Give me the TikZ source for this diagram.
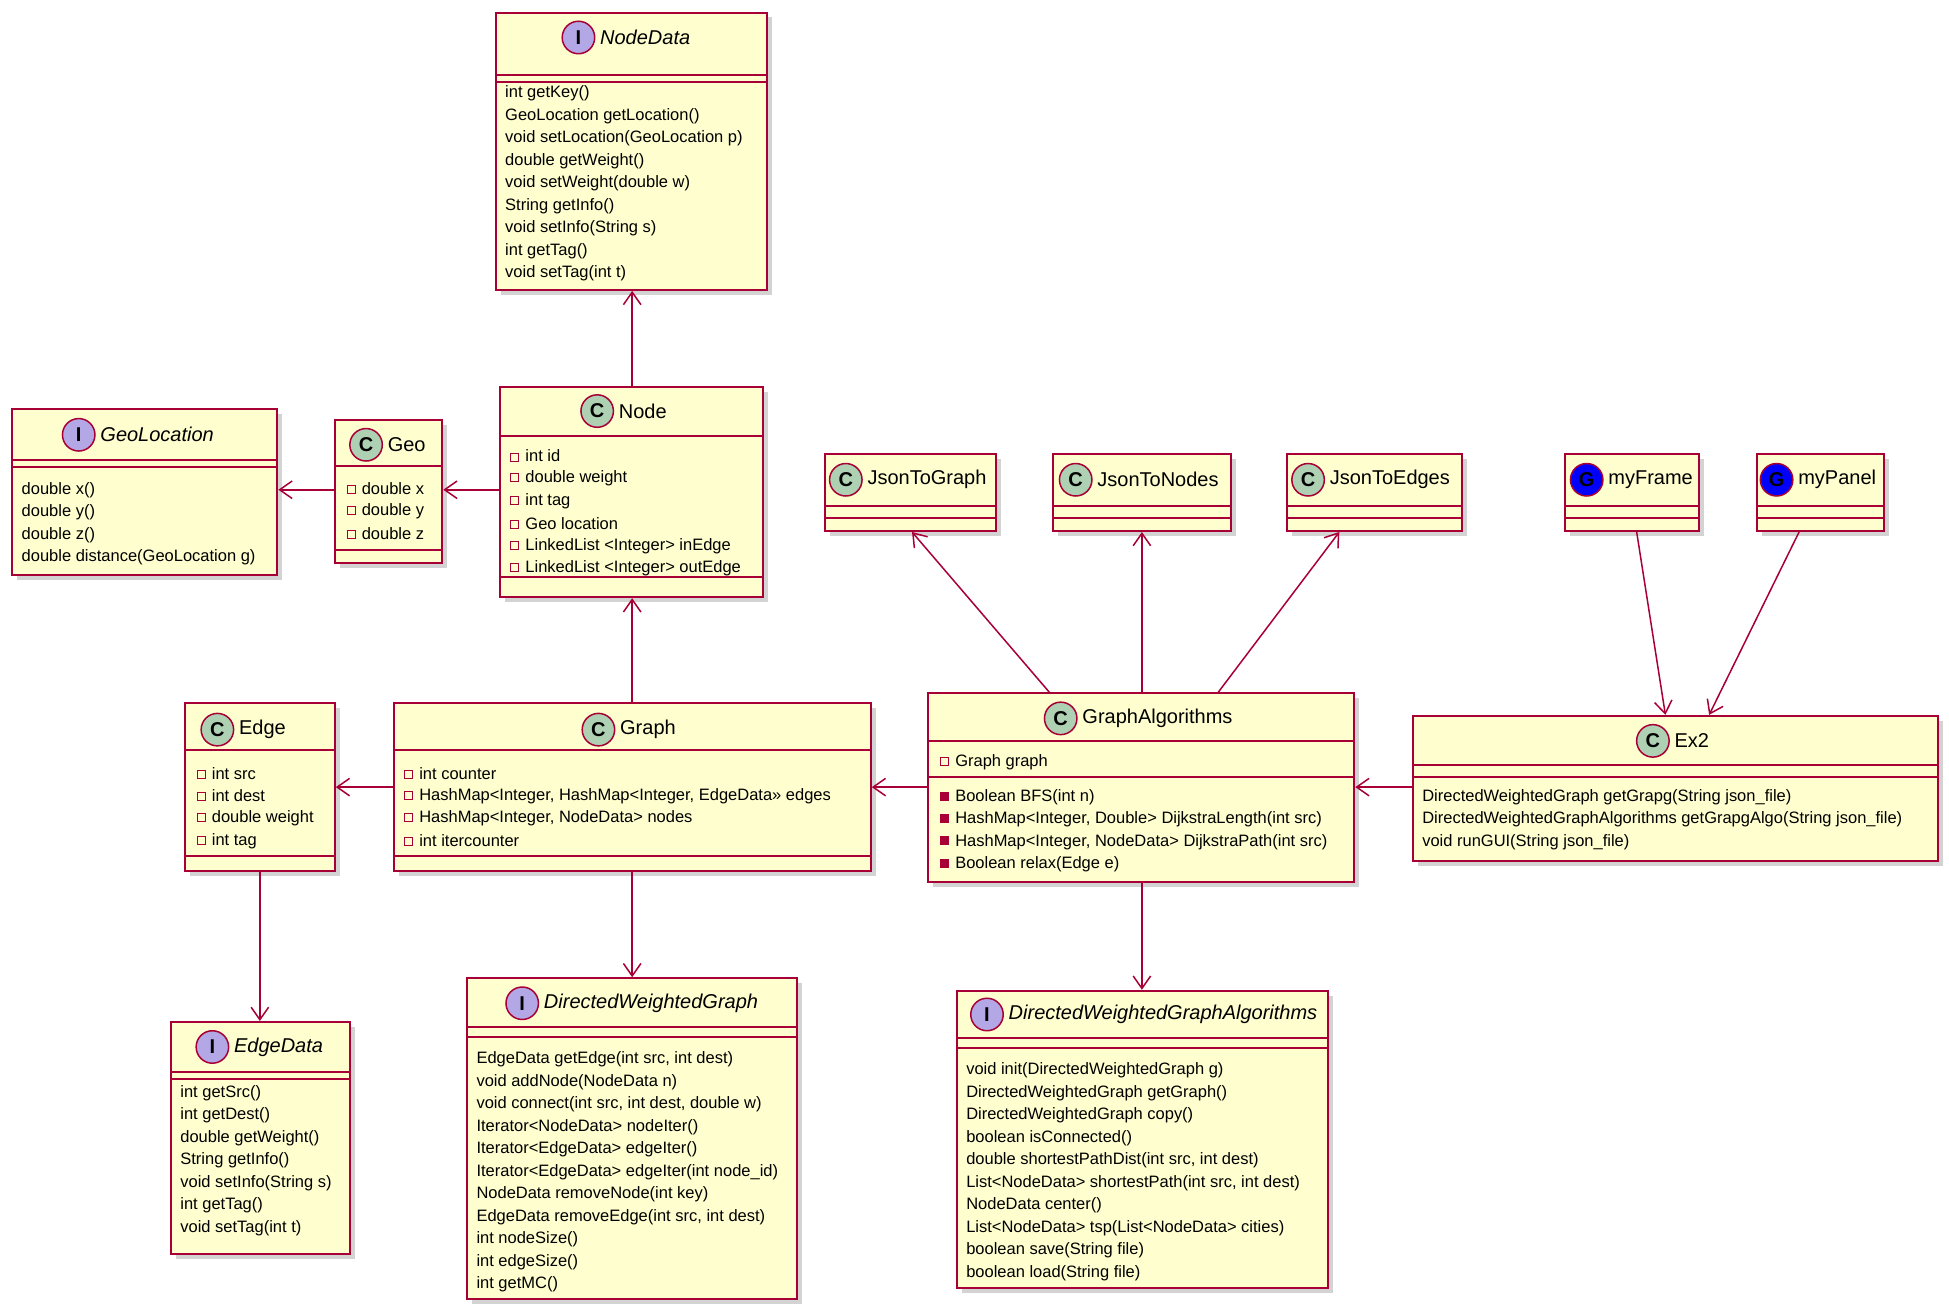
\documentclass[tikz,border=0pt]{standalone}
\usepackage{fontspec}
\setmainfont{Liberation Sans}
\usetikzlibrary{arrows.meta,fit,shadows,calc}
\definecolor{umlred}{HTML}{A80036}
\definecolor{umlfill}{HTML}{FEFECE}
\definecolor{cgreen}{HTML}{ADD1B2}
\definecolor{ipurple}{HTML}{B4A7E5}
\tikzset{
  classbox/.style={draw=umlred, fill=umlfill, line width=0.8pt, inner sep=0pt,
    drop shadow={shadow xshift=2pt, shadow yshift=-2pt, opacity=0.35}},
  sepline/.style={draw=umlred, line width=0.8pt},
  icon/.style={circle, draw=umlred, line width=0.6pt, minimum size=13pt, inner sep=0pt,
    font=\bfseries\fontsize{8}{8}\selectfont},
  title/.style={anchor=west, inner sep=0pt, font=\fontsize{8}{9}\selectfont},
  member/.style={anchor=west, inner sep=0pt, font=\fontsize{6.6}{8}\selectfont},
  assoc/.style={draw=umlred, line width=0.6pt, -{Straight Barb[length=5pt,width=7pt]}}
}
% box with its two separators
\newcommand\umlbox[7]{%
  \node[classbox, fit={(#2,#3) (#4,#5)}] (#1) {};
  \draw[sepline] (#2,#6) -- (#4,#6);
  \draw[sepline] (#2,#7) -- (#4,#7);}
% icon and class name
\newcommand\umltitle[6]{%
  \node[icon, fill=#1] (#6-ic) at (#3,#4) {#2};
  \node[title] at (#3+17,#4) {#5};}
% lines of members
\newcommand\umllines[3]{%
  \foreach \t [count=\i from 0] in {#3}
    \node[member] at (#1,#2+18*\i) {\t};}
\newcommand\fld{\tikz[baseline=-0.1ex]\draw[umlred,line width=0.4pt] (0,0) rectangle (3.2pt,3.2pt);\hspace{2.5pt}}
\newcommand\mth{\tikz[baseline=-0.1ex]\fill[umlred] (0,0) rectangle (3.6pt,3.6pt);\hspace{2.5pt}}

\begin{document}
\begin{tikzpicture}[x=0.5pt, y=-0.5pt]
\useasboundingbox (0,0) rectangle (1560,1051);

% interfaces and classes
\umlbox{NodeData}{397}{10}{614}{232}{60}{66}
\umltitle{ipurple}{I}{463}{30}{\textit{NodeData}}{NodeData}
\umllines{404}{75}{int getKey(), GeoLocation getLocation(), void setLocation(GeoLocation p), double getWeight(), void setWeight(double w), String getInfo(), void setInfo(String s), int getTag(), void setTag(int t)}

\umlbox{Node}{400}{310}{611}{478}{349}{462}
\umltitle{cgreen}{C}{478}{329}{Node}{Node}
\umllines{408}{365}{\fld int id, \fld double weight, \fld int tag, \fld Geo location, \fld LinkedList <Integer> inEdge, \fld LinkedList <Integer> outEdge}

\umlbox{Geo}{268}{336}{354}{451}{373}{440}
\umltitle{cgreen}{C}{293}{356}{Geo}{Geo}
\umllines{277}{391}{\fld double x, \fld double y, \fld double z}

\umlbox{GeoLocation}{10}{327}{222}{460}{368}{374}
\umltitle{ipurple}{I}{63}{348}{\textit{GeoLocation}}{GeoLocation}
\umllines{17}{392}{double x(), double y(), double z(), double distance(GeoLocation g)}

\umlbox{JsonToGraph}{660}{363}{797}{425}{405}{415}
\umltitle{cgreen}{C}{677}{384}{JsonToGraph}{JsonToGraph}
\umlbox{JsonToNodes}{843}{363}{985}{425}{405}{415}
\umltitle{cgreen}{C}{861}{384}{JsonToNodes}{JsonToNodes}
\umlbox{JsonToEdges}{1030}{363}{1170}{425}{405}{415}
\umltitle{cgreen}{C}{1047}{384}{JsonToEdges}{JsonToEdges}
\umlbox{myFrame}{1253}{363}{1360}{425}{405}{415}
\umltitle{blue}{G}{1270}{384}{myFrame}{myFrame}
\umlbox{myPanel}{1406}{363}{1508}{425}{405}{415}
\umltitle{blue}{G}{1422}{384}{myPanel}{myPanel}

\umlbox{Edge}{148}{563}{268}{697}{600}{685}
\umltitle{cgreen}{C}{174}{584}{Edge}{Edge}
\umllines{157}{619}{\fld int src, \fld int dest, \fld double weight, \fld int tag}

\umlbox{Graph}{315}{563}{697}{697}{600}{685}
\umltitle{cgreen}{C}{479}{584}{Graph}{Graph}
\umllines{323}{619}{\fld int counter, {\fld HashMap<Integer, HashMap<Integer, EdgeData>> edges}, {\fld HashMap<Integer, NodeData> nodes}, \fld int itercounter}

\umlbox{GraphAlgorithms}{743}{555}{1084}{706}{593}{622}
\umltitle{cgreen}{C}{849}{575}{GraphAlgorithms}{GraphAlgorithms}
\umllines{752}{610}{\fld Graph graph}
\umllines{752}{638}{\mth Boolean BFS(int n), {\mth HashMap<Integer, Double> DijkstraLength(int src)}, {\mth HashMap<Integer, NodeData> DijkstraPath(int src)}, \mth Boolean relax(Edge e)}

\umlbox{Ex2}{1131}{573}{1551}{689}{612}{622}
\umltitle{cgreen}{C}{1323}{593}{Ex2}{Ex2}
\umllines{1138}{638}{DirectedWeightedGraph getGrapg(String json\_file), DirectedWeightedGraphAlgorithms getGrapgAlgo(String json\_file), void runGUI(String json\_file)}

\umlbox{EdgeData}{137}{818}{280}{1004}{858}{864}
\umltitle{ipurple}{I}{170}{838}{\textit{EdgeData}}{EdgeData}
\umllines{144}{875}{int getSrc(), int getDest(), double getWeight(), String getInfo(), void setInfo(String s), int getTag(), void setTag(int t)}

\umlbox{DWG}{374}{783}{638}{1040}{822}{830}
\umltitle{ipurple}{I}{418}{803}{\textit{DirectedWeightedGraph}}{DWG}
\umllines{381}{848}{{EdgeData getEdge(int src, int dest)}, void addNode(NodeData n), {void connect(int src, int dest, double w)}, Iterator<NodeData> nodeIter(), Iterator<EdgeData> edgeIter(), Iterator<EdgeData> edgeIter(int node\_id), NodeData removeNode(int key), {EdgeData removeEdge(int src, int dest)}, int nodeSize(), int edgeSize(), int getMC()}

\umlbox{DWGA}{766}{793}{1063}{1031}{831}{839}
\umltitle{ipurple}{I}{790}{812}{\textit{DirectedWeightedGraphAlgorithms}}{DWGA}
\umllines{773}{857}{void init(DirectedWeightedGraph g), DirectedWeightedGraph getGraph(), DirectedWeightedGraph copy(), boolean isConnected(), {double shortestPathDist(int src, int dest)}, {List<NodeData> shortestPath(int src, int dest)}, NodeData center(), List<NodeData> tsp(List<NodeData> cities), boolean save(String file), boolean load(String file)}

% connectors
\draw[assoc] (Node.north -| 506,0) -- (NodeData.south -| 506,0);
\draw[assoc] (Node.west |- 0,392) -- (Geo.east |- 0,392);
\draw[assoc] (Geo.west |- 0,392) -- (GeoLocation.east |- 0,392);
\draw[assoc] (Graph.north -| 506,0) -- (Node.south -| 506,0);
\draw[assoc] (Graph.west |- 0,630) -- (Edge.east |- 0,630);
\draw[assoc] (Graph.south -| 506,0) -- (DWG.north -| 506,0);
\draw[assoc] (Edge.south -| 208,0) -- (EdgeData.north -| 208,0);
\draw[assoc] (GraphAlgorithms.west |- 0,630) -- (Graph.east |- 0,630);
\draw[assoc] (GraphAlgorithms.north -| 840,0) -- (JsonToGraph.south -| 730,0);
\draw[assoc] (GraphAlgorithms.north -| 914,0) -- (JsonToNodes.south -| 914,0);
\draw[assoc] (GraphAlgorithms.north -| 975,0) -- (JsonToEdges.south -| 1072,0);
\draw[assoc] (GraphAlgorithms.south -| 914,0) -- (DWGA.north -| 914,0);
\draw[assoc] (Ex2.west |- 0,630) -- (GraphAlgorithms.east |- 0,630);
\draw[assoc] (myFrame.south -| 1310,0) -- (Ex2.north -| 1333,0);
\draw[assoc] (myPanel.south -| 1440,0) -- (Ex2.north -| 1368,0);
\end{tikzpicture}
\end{document}
